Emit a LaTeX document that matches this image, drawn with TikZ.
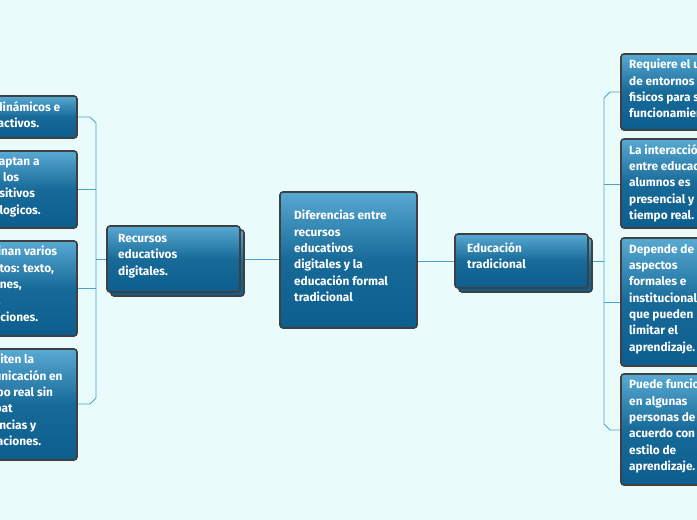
\documentclass[tikz,border=0pt]{standalone}
\usepackage{fontspec}
\setmainfont{Fira Sans}
\begin{document}
\begin{tikzpicture}[x=1bp,y=-1bp,
  bx/.style={draw=black!75,line width=1.6bp,rounded corners=3bp,top color=blue1,bottom color=blue2,middle color=blue2!85!blue1},
  tx/.style={text=white,font=\bfseries\fontsize{11.9}{16.4}\selectfont,align=left,anchor=north west,inner sep=0pt},
  ln/.style={draw=lin,line width=0.8bp}]
\definecolor{blue1}{HTML}{58AAD3}
\definecolor{blue2}{HTML}{0C5E8E}
\definecolor{lin}{HTML}{4AA3CF}
\definecolor{bg}{HTML}{EAFBFC}
\fill[bg] (0,0) rectangle (697,520);
\useasboundingbox (0,0) rectangle (697,520);
\clip (0,0) rectangle (697,520);
% connectors
\coordinate (cl) at (280,259);
\coordinate (lm) at (240,259);
\draw[ln] (lm) -- (cl);
\draw[ln] (417,261) -- (455,261);
\draw[ln] (77,117) -- (90,117) -- (96,123) -- (96,398) -- (90,404) -- (77,404);
\draw[ln] (77,189) -- (96,189);
\draw[ln] (77,288) -- (96,288);
\draw[ln] (96,259) -- (107,259);
\draw[ln] (621,92) -- (610,92) -- (604,98) -- (604,424) -- (610,430) -- (621,430);
\draw[ln] (621,184) -- (604,184);
\draw[ln] (621,302) -- (604,302);
\draw[ln] (588,261) -- (604,261);
% center
\draw[bx] (280,192) rectangle (417,328);
\node[tx] (c) at (294,210) {Diferencias entre\\recursos\\educativos\\digitales y la\\educación formal\\tradicional};
% left main
\draw[bx] (111,230) rectangle (244,296);
\draw[bx] (107,226) rectangle (240,292);
\node[tx] (l) at (118,234) {Recursos\\educativos\\digitales.};
% right main
\draw[bx] (459,238) rectangle (592,292);
\draw[bx] (455,234) rectangle (588,288);
\node[tx] (r) at (467,242) {Educación\\tradicional};
% left children
\draw[bx] (-60,96) rectangle (77,138);
\node[tx] (a1) at (-28,101) {Son dinámicos e\\interactivos.};
\draw[bx] (-60,151) rectangle (77,228);
\node[tx] (a2) at (-31,156) {Se adaptan a\\todos los\\dispositivos\\tecnologicos.};
\draw[bx] (-60,241) rectangle (77,336);
\node[tx] (a3) at (-33,246) {Combinan varios\\formatos: texto,\\imágenes,\\audio,\\animaciones.};
\draw[bx] (-60,349) rectangle (77,460);
\node[tx] (a4) at (-28,354) {Permiten la\\comunicación en\\tiempo real sin\\combat\\distancias y\\limitaciones.};
% right children
\draw[bx] (621,54) rectangle (780,130);
\node[tx] (b1) at (629,59) {Requiere el uso\\de entornos\\fisicos para su\\funcionamiento.};
\draw[bx] (621,139) rectangle (780,228);
\node[tx] (b2) at (629,144) {La interacción\\entre educadores y\\alumnos es\\presencial y en\\tiempo real.};
\draw[bx] (621,238) rectangle (780,366);
\node[tx] (b3) at (629,244) {Depende de\\aspectos\\formales e\\institucionales\\que pueden\\limitar el\\aprendizaje.};
\draw[bx] (621,374) rectangle (780,485);
\node[tx] (b4) at (629,379) {Puede funcionar\\en algunas\\personas de\\acuerdo con su\\estilo de\\aprendizaje.};
\end{tikzpicture}
\end{document}
